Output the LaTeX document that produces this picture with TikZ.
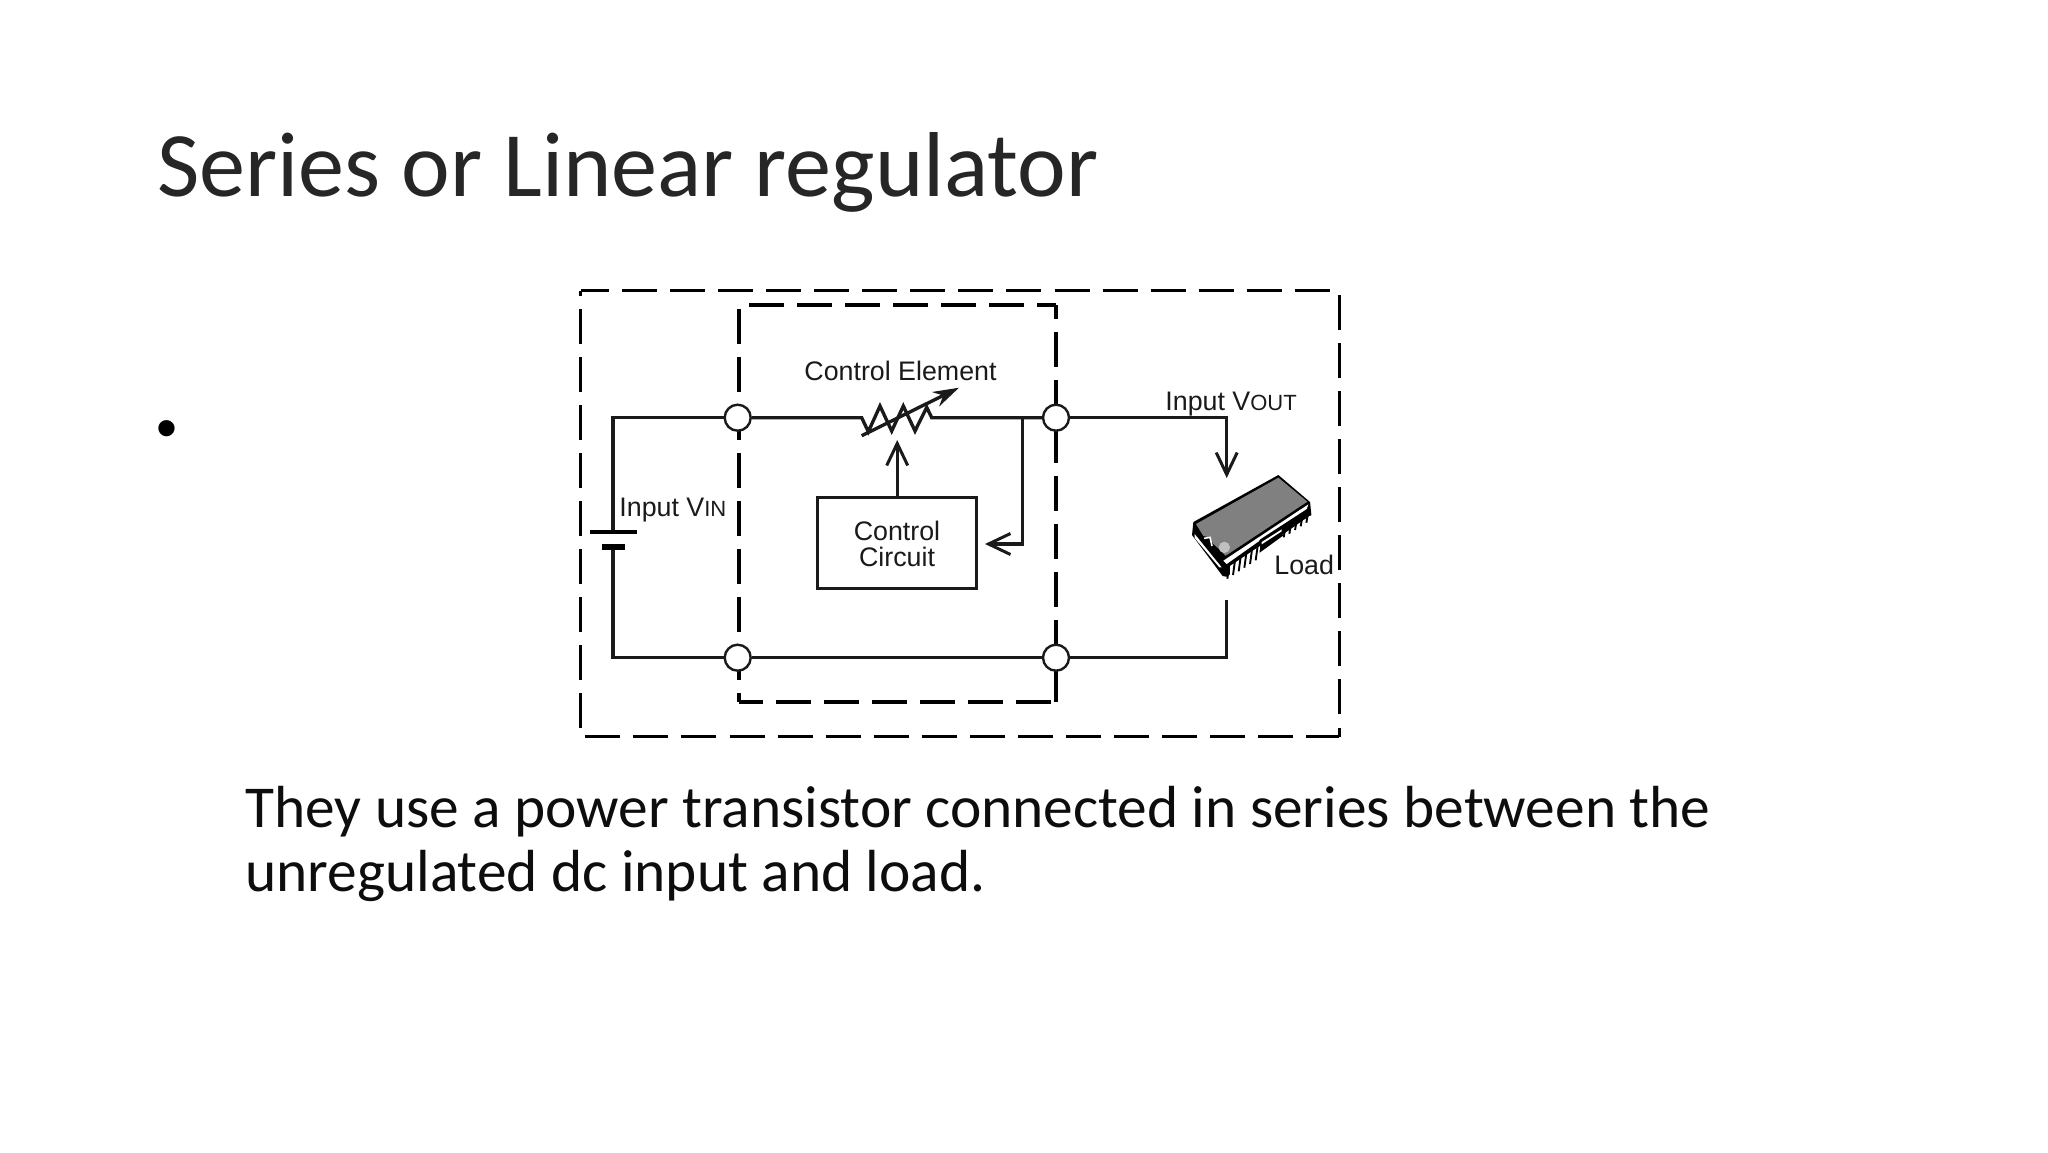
\documentclass[tikz,border=0pt]{standalone}
\usepackage{fontspec}
\setmainfont{Carlito}
\newfontfamily\arialf{Liberation Sans}
\usetikzlibrary{arrows.meta}
\definecolor{ink}{HTML}{1A1A1A}
\definecolor{chipgray}{HTML}{808080}
\tikzset{
  title/.style={anchor=base west,inner sep=0,text=black!85,font=\fontsize{46.1}{50}\selectfont},
  bodytxt/.style={anchor=base west,inner sep=0,text=black!95,font=\fontsize{29.7}{32}\selectfont},
  lbl/.style={anchor=base west,inner sep=0,text=ink,font=\arialf\fontsize{13.4}{14}\selectfont},
  frame/.style={line width=1.65pt,black,dash pattern=on 17.5pt off 6.525pt},
  iframe/.style={line width=1.52pt,black,dash pattern=on 17.5pt off 6.525pt},
  wire/.style={line width=1.68pt,ink,line cap=butt,line join=miter},
  barb/.style={-{Straight Barb[length=11pt,width=10.5pt,line width=1.5pt]}},
  terminal/.style={circle,draw=ink,line width=1.2pt,fill=white,minimum size=13pt,inner sep=0},
  ctrlbox/.style={rectangle,draw=ink,line width=1.7pt,fill=white,minimum width=79.5pt,minimum height=45.5pt,inner sep=0},
  plate/.style={line width=1.7pt,black},
  pin/.style={line width=0.95pt,black},
}
\newcommand{\smcap}[1]{{\fontsize{11}{12}\selectfont #1}}
\begin{document}
\begin{tikzpicture}[x=0.5pt,y=-0.5pt]
\useasboundingbox (0,0) rectangle (2048,1152);
\fill[white] (0,0) rectangle (2048,1152);

% slide text
\node[title] (ttl) at (157,196) {Series or Linear regulator};
\node[anchor=base west,inner sep=0,font=\arialf\fontsize{29.9}{32}\selectfont] (bul) at (156,448) {•};
\node[bodytxt] (body1) at (245,827) {They use a power transistor connected in series between the};
\node[bodytxt] (body2) at (245,891) {unregulated dc input and load.};

% frame corners
\coordinate (oTL) at (580.7,290.7);
\coordinate (oTE) at (1330,290.7);
\coordinate (oTR) at (1339.3,290.7);
\coordinate (oBR) at (1339.3,736.7);
\coordinate (oBL) at (580.7,736.7);
\coordinate (iTL) at (739,305);
\coordinate (iTR) at (1056,305);
\coordinate (iBR) at (1056,702);
\coordinate (iBL) at (739,702);

% outer dashed frame
\draw[frame,dash phase=3.35pt] (oTL) -- (oTE);
\draw[frame,dash phase=15pt] (oTL) -- (oBL);
\draw[frame,dash phase=21.7pt] (oBL) -- (oBR);
\draw[frame,dash phase=21.85pt] (oTR) -- (oBR);
% inner dashed frame
\draw[iframe,dash phase=19pt] (iTL) -- (iTR);
\draw[iframe,dash phase=22pt] (iTL) -- (iBL);
\draw[iframe,dash phase=5.65pt] (iBL) -- (iBR);
\draw[iframe,dash phase=10.5pt] (iTR) -- (iBR);

% terminals
\node[terminal] (t1) at (737.7,417.7) {};
\node[terminal] (t2) at (1056,417.7) {};
\node[terminal] (t3) at (737.7,657.7) {};
\node[terminal] (t4) at (1056,657.7) {};

% control circuit
\node[ctrlbox] (cc) at (897.2,543.2) {};
\node[lbl,anchor=base] (cc1) at (897,540.3) {Control};
\node[lbl,anchor=base] (cc2) at (897,566.7) {Circuit};

% named points
\coordinate (cTL) at (613,417.7);
\coordinate (batA) at (613,532);
\coordinate (batB) at (613,547);
\coordinate (cBL) at (613,657.7);
\coordinate (p1) at (590,532);
\coordinate (p2) at (637,532);
\coordinate (p3) at (602,547);
\coordinate (p4) at (625,547);
\coordinate (rA) at (861.7,417.7);
\coordinate (rB) at (931.7,417.7);
\coordinate (rU) at (861.7,435.7);
\coordinate (rV) at (959,387.7);
\coordinate (ctip) at (897.2,440);
\coordinate (fbT) at (1022.7,417.7);
\coordinate (fbC) at (1022.7,544);
\coordinate (fbE) at (985,544);
\coordinate (lT) at (1226.7,417.7);
\coordinate (lE) at (1226.7,478);
\coordinate (lB) at (1226.7,657.7);
\coordinate (lF) at (1226.7,600);

% wires
\draw[wire] (batA) -- (cTL) -- (t1);
\draw[wire] (t1) -- (rA) -- ++(6.6,14) -- ++(11.7,-25.7) -- ++(11.7,25) -- ++(11.6,-25) -- ++(11.7,25) -- ++(11.7,-23.7) -- (rB) -- (t2);
\draw[wire] (batB) -- (cBL) -- (t3);
\draw[wire] (t3) -- (t4);
\draw[wire] (t4) -- (lB) -- (lF);
\draw[wire,barb] (t2) -- (lT) -- (lE);
\draw[wire,barb] (fbT) -- (fbC) -- (fbE);
\draw[wire,barb] (cc.north) -- (ctip);
\draw[wire,-{Stealth[length=13pt,width=8pt]}] (rU) -- (rV);
% battery
\draw[plate] (p1) -- (p2);
\draw[line width=3pt,black] (p3) -- (p4);

% chip
\begin{scope}[shift={(1180,460)},x=0.1667pt,y=-0.1667pt]
  \fill[black] (40,186) -- (295,45) -- (390,126) -- (394,165) -- (140,350) -- (128,348) -- (36,225) -- cycle;
  \fill[chipgray] (48,192) -- (295,53) -- (382,125) -- (137,287) -- (118,268) -- (100,252) -- (88,232) -- (70,228) -- cycle;
  \fill[white] (130,302) -- (385,133) -- (380,147) -- (240,238) -- (236,244) -- (140,312) -- cycle;
  \fill[white] (44,222) -- (125,322) -- (118,322) -- (44,234) -- cycle;
  \draw[white,line width=0.8pt] (72,235) -- (90,232) -- (96,258);
  \fill[white!50!chipgray] (133,262) circle (17);
  \fill[white] (245,246) -- (305,208) -- (305,214) -- (245,253) -- cycle;
  \fill[white] (150,318) -- (240,258) -- (238,285) -- (150,345) -- cycle;
  \fill[white] (308,224) -- (390,167) -- (392,175) -- (312,232) -- cycle;
  \foreach \t in {0,...,5}{
    \draw[pin] ({148+\t*17},{312-\t*11}) -- ({142+\t*17},{356-\t*11});
  }
  \foreach \t in {0,...,4}{
    \draw[pin] ({316+\t*17},{202-\t*11}) -- ({311+\t*17},{232-\t*11});
  }
\end{scope}

% labels
\node[lbl] (ce) at (804,380) {Control Element};
\node[lbl] (vin) at (619,516.7) {Input V\smcap{IN}};
\node[lbl] (vout) at (1165,410) {Input V\smcap{OUT}};
\node[lbl] (ld) at (1274,574) {Load};
\end{tikzpicture}
\end{document}
